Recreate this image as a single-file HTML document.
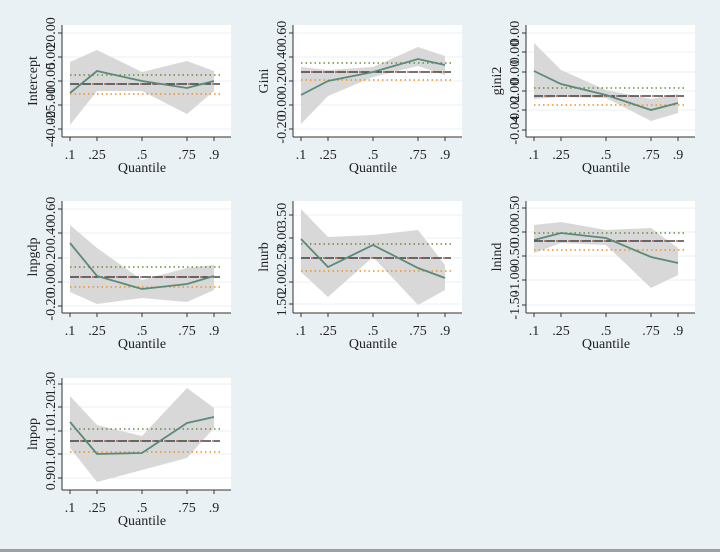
<!DOCTYPE html>
<html><head><meta charset="utf-8"><style>
body{margin:0;background:#eaf1f4;}
svg{display:block;font-family:"Liberation Serif",serif;}
</style></head><body>
<svg id="s" width="720" height="552" xmlns="http://www.w3.org/2000/svg">
<rect width="720" height="552" fill="#eaf1f4"/>
<rect x="0" y="549" width="720" height="3" fill="#9aa0a4"/>
</svg>
<script>
var P=[
{x0:62,top:25,bot:137,name:"Intercept",ticks:[129,105,81,57,33],lab:["-40.00","-25.00","-10.00","5.00","20.00"],
 line:[93,71,81,88,81],up:[62,50,72,61,71],lo:[125,91,91,114,91],d:84,g:75,o:94},
{x0:293,top:25,bot:137,name:"Gini",ticks:[129,105,81,57,33],lab:["-0.20","0.00","0.20","0.40","0.60"],
 line:[95,81,72,59,65],up:[67,70,67,47,56],lo:[124,96,77,66,75],d:72,g:63,o:80},
{x0:526,top:25,bot:137,name:"gini2",ticks:[130,110,91,72,52,33],lab:["-0.04","-0.02","0.00","0.00","0.00","0.00"],
 line:[71,84,95,110,103],up:[43,70,90,99,94],lo:[99,97,98,121,113],d:96,g:88,o:105},
{x0:62,top:201,bot:313,name:"lnpgdp",ticks:[306,282,258,233,209],lab:["-0.20","0.00","0.20","0.40","0.60"],
 line:[243,276,289,284,276],up:[225,248,280,268,265],lo:[292,304,298,302,290],d:277,g:267,o:287},
{x0:293,top:201,bot:313,name:"lnurb",ticks:[304,282,258,238,215],lab:["1.50","2.00","2.50","3.00","3.50"],
 line:[239,267,245,268,278],up:[209,237,235,230,265],lo:[272,297,257,305,290],d:258,g:244,o:271},
{x0:526,top:201,bot:313,name:"lnind",ticks:[305,280,256,232,208],lab:["-1.50","-1.00","-0.50","0.00","0.50"],
 line:[240,233,238,257,263],up:[225,222,230,228,248],lo:[253,243,245,288,275],d:241,g:233,o:250},
{x0:62,top:378,bot:490,name:"lnpop",ticks:[478,454,431,407,384],lab:["0.90","1.00","1.10","1.20","1.30"],
 line:[422,454,453,423,417],up:[396,425,436,388,408],lo:[448,482,470,458,428],d:441,g:429,o:452}
];
var Q=[.1,.25,.5,.75,.9],QL=[".1",".25",".5",".75",".9"];
var h='';
P.forEach(function(p){
 var X=function(q){return p.x0+8+(q-.1)*180;};
 var R=p.x0+169;
 h+='<rect x="'+p.x0+'" y="'+p.top+'" width="'+(R-p.x0)+'" height="'+(p.bot-p.top)+'" fill="#fff"/>';
 p.ticks.forEach(function(t){h+='<line x1="'+p.x0+'" x2="'+R+'" y1="'+t+'" y2="'+t+'" stroke="#eaf1f4" stroke-width="1"/>';});
 var pts=Q.map(function(q,i){return X(q)+','+p.up[i];}).join(' ')+' '+Q.slice().reverse().map(function(q,j){var i=4-j;return X(q)+','+p.lo[i];}).join(' ');
 h+='<polygon points="'+pts+'" fill="#d8d8d8"/>';
 var xa=X(.1),xb=X(.9)+6;
 h+='<line x1="'+xa+'" x2="'+xb+'" y1="'+p.g+'" y2="'+p.g+'" stroke="#6b8e3a" stroke-width="1.5" stroke-dasharray="1.5 3"/>';
 h+='<line x1="'+xa+'" x2="'+xb+'" y1="'+p.o+'" y2="'+p.o+'" stroke="#f0921c" stroke-width="1.5" stroke-dasharray="1.5 3"/>';
 h+='<line x1="'+xa+'" x2="'+xb+'" y1="'+p.d+'" y2="'+p.d+'" stroke="#222" stroke-width="1.3" stroke-dasharray="9 3"/>';
 h+='<line x1="'+(xa+10)+'" x2="'+xb+'" y1="'+p.d+'" y2="'+p.d+'" stroke="#c0392b" stroke-width="1.3" stroke-dasharray="2 10"/>';
 h+='<polyline points="'+Q.map(function(q,i){return X(q)+','+p.line[i];}).join(' ')+'" fill="none" stroke="#5b8a7a" stroke-width="1.8"/>';
 h+='<line x1="'+p.x0+'" x2="'+p.x0+'" y1="'+p.top+'" y2="'+p.bot+'" stroke="#333" stroke-width="1"/>';
 h+='<line x1="'+p.x0+'" x2="'+R+'" y1="'+p.bot+'" y2="'+p.bot+'" stroke="#333" stroke-width="1"/>';
 p.ticks.forEach(function(t,i){
  h+='<line x1="'+(p.x0-4)+'" x2="'+p.x0+'" y1="'+t+'" y2="'+t+'" stroke="#333"/>';
  h+='<text transform="translate('+(p.x0-7)+','+t+') rotate(-90)" text-anchor="middle" font-size="14" fill="#222">'+p.lab[i]+'</text>';
 });
 Q.forEach(function(q,i){
  h+='<line x1="'+X(q)+'" x2="'+X(q)+'" y1="'+p.bot+'" y2="'+(p.bot+4)+'" stroke="#333"/>';
  h+='<text x="'+X(q)+'" y="'+(p.bot+22)+'" text-anchor="middle" font-size="14" fill="#222">'+QL[i]+'</text>';
 });
 h+='<text x="'+(X(.5))+'" y="'+(p.bot+35)+'" text-anchor="middle" font-size="14" fill="#222">Quantile</text>';
 var cy=(p.top+p.bot)/2;
 h+='<text transform="translate('+(p.x0-25)+','+cy+') rotate(-90)" text-anchor="middle" font-size="14" fill="#222">'+p.name+'</text>';
});
document.getElementById('s').insertAdjacentHTML('beforeend',h);
</script>
</body></html>
